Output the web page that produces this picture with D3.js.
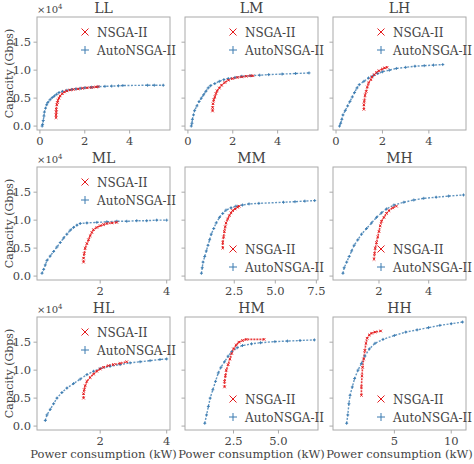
<!DOCTYPE html>
<html>
<head>
<meta charset="utf-8">
<script src="https://d3js.org/d3.v7.min.js"></script>
<style>
  body { margin: 0; background: #fff; }
  svg text { font-family: "DejaVu Serif", "Liberation Serif", serif; fill: #444; }
</style>
</head>
<body>
<svg id="chart" width="474" height="464" font-family="DejaVu Serif, serif"></svg>
<script>
// values in units of 1e4 Gbps, x in kW
var panelNames = ["LL", "LM", "LH", "ML", "MM", "MH", "HL", "HM", "HH"];
var xDomains = [[-0.13, 5.8], [-0.13, 5.8], [-0.13, 5.6], [0.1, 4.1], [-0.5, 7.6], [0.15, 5.5], [0.1, 4.1], [-0.2, 7.2], [-0.4, 11.3]];
var xTicks = [[0, 2, 4], [0, 2, 4], [0, 2, 4], [2, 4], [2.5, 5.0, 7.5], [2, 4], [2, 4], [2.5, 5.0], [5, 10]];
var yTicks = [0, 0.5, 1.0, 1.5];
var legendTop = [true, true, true, true, false, false, true, false, false];

var autoSeries = [
  [[0.1,0.0],[0.12,0.03],[0.15,0.1],[0.18,0.18],[0.2,0.25],[0.25,0.32],[0.3,0.38],[0.35,0.42],[0.45,0.47],[0.55,0.51],[0.65,0.54],[0.75,0.57],[0.85,0.6],[1.0,0.62],[1.2,0.64],[1.4,0.655],[1.6,0.665],[1.8,0.675],[2.0,0.685],[2.3,0.695],[2.6,0.705],[2.9,0.71],[3.2,0.715],[3.5,0.72],[3.7,0.725],[4.8,0.73],[5.1,0.73],[5.5,0.73]],
  [[0.15,0.0],[0.18,0.05],[0.2,0.12],[0.25,0.2],[0.3,0.28],[0.4,0.36],[0.5,0.44],[0.6,0.5],[0.7,0.56],[0.8,0.62],[0.9,0.68],[1.0,0.72],[1.2,0.76],[1.4,0.8],[1.6,0.83],[1.8,0.85],[2.1,0.87],[2.4,0.89],[2.8,0.9],[3.2,0.91],[3.6,0.92],[4.2,0.93],[4.8,0.94],[5.4,0.95]],
  [[0.15,0.0],[0.2,0.05],[0.25,0.12],[0.3,0.2],[0.4,0.28],[0.5,0.36],[0.6,0.44],[0.7,0.52],[0.8,0.6],[0.9,0.68],[1.0,0.74],[1.2,0.8],[1.4,0.86],[1.6,0.9],[1.8,0.94],[2.0,0.97],[2.3,1.0],[2.6,1.03],[3.0,1.05],[3.4,1.07],[3.8,1.08],[4.2,1.09],[4.6,1.1]],
  [[0.25,0.05],[0.3,0.12],[0.35,0.2],[0.4,0.28],[0.5,0.36],[0.6,0.44],[0.7,0.52],[0.8,0.6],[0.9,0.68],[1.0,0.75],[1.1,0.82],[1.2,0.87],[1.3,0.91],[1.4,0.94],[1.6,0.95],[1.9,0.96],[2.2,0.97],[2.5,0.98],[2.8,0.98],[3.1,0.99],[3.4,0.99],[3.7,1.0],[4.0,1.0]],
  [[0.5,0.05],[0.55,0.15],[0.6,0.25],[0.7,0.35],[0.8,0.45],[0.9,0.55],[1.0,0.65],[1.1,0.75],[1.25,0.85],[1.4,0.95],[1.6,1.05],[1.8,1.12],[2.0,1.18],[2.3,1.22],[2.6,1.25],[3.0,1.27],[3.4,1.29],[4.0,1.3],[5.5,1.32],[6.2,1.33],[6.8,1.34],[7.4,1.35]],
  [[0.55,0.05],[0.6,0.15],[0.7,0.25],[0.8,0.35],[0.9,0.45],[1.0,0.55],[1.15,0.65],[1.3,0.75],[1.5,0.85],[1.7,0.95],[1.9,1.05],[2.1,1.13],[2.3,1.2],[2.6,1.27],[3.0,1.32],[3.4,1.36],[3.8,1.39],[4.3,1.41],[4.8,1.43],[5.4,1.45]],
  [[0.35,0.1],[0.4,0.2],[0.5,0.3],[0.6,0.4],[0.7,0.5],[0.85,0.6],[1.0,0.68],[1.2,0.76],[1.4,0.84],[1.6,0.92],[1.8,0.98],[2.0,1.03],[2.3,1.07],[2.6,1.1],[2.9,1.13],[3.2,1.15],[3.5,1.17],[3.8,1.19],[4.0,1.2]],
  [[0.9,0.05],[1.0,0.2],[1.1,0.35],[1.2,0.5],[1.35,0.65],[1.5,0.8],[1.65,0.95],[1.8,1.05],[2.0,1.15],[2.2,1.25],[2.4,1.33],[2.7,1.4],[3.0,1.44],[3.5,1.47],[4.0,1.49],[4.8,1.51],[5.5,1.52],[6.2,1.53],[7.0,1.54]],
  [[0.8,0.05],[0.9,0.2],[1.0,0.4],[1.1,0.55],[1.3,0.7],[1.5,0.85],[1.8,1.0],[2.1,1.12],[2.4,1.25],[2.8,1.38],[3.3,1.48],[4.0,1.55],[5.0,1.62],[6.0,1.68],[7.0,1.72],[8.0,1.76],[9.0,1.8],[10.0,1.83],[11.0,1.86]]
];
var nsgaSeries = [
  [[0.72,0.15],[0.72,0.2],[0.73,0.25],[0.73,0.3],[0.75,0.38],[0.78,0.42],[0.8,0.46],[0.85,0.5],[0.9,0.54],[1.0,0.58],[1.1,0.61],[1.2,0.63],[1.35,0.645],[1.5,0.655],[1.7,0.665],[1.9,0.675],[2.1,0.685],[2.3,0.69],[2.5,0.7],[2.6,0.705]],
  [[1.1,0.27],[1.1,0.33],[1.12,0.4],[1.15,0.47],[1.2,0.52],[1.25,0.58],[1.3,0.63],[1.4,0.68],[1.5,0.73],[1.65,0.78],[1.8,0.82],[2.0,0.85],[2.2,0.87],[2.4,0.88],[2.6,0.89],[2.8,0.9],[2.9,0.9]],
  [[1.2,0.3],[1.2,0.38],[1.22,0.45],[1.25,0.55],[1.3,0.62],[1.35,0.7],[1.4,0.77],[1.5,0.83],[1.55,0.88],[1.65,0.92],[1.75,0.96],[1.85,0.99],[2.0,1.02],[2.1,1.04],[2.2,1.05]],
  [[1.5,0.25],[1.5,0.32],[1.52,0.4],[1.55,0.5],[1.6,0.58],[1.65,0.65],[1.7,0.72],[1.75,0.78],[1.8,0.83],[1.9,0.87],[2.0,0.9],[2.1,0.92],[2.2,0.94],[2.35,0.95],[2.5,0.96]],
  [[1.8,0.5],[1.8,0.6],[1.85,0.7],[1.9,0.8],[1.95,0.88],[2.0,0.95],[2.1,1.02],[2.2,1.08],[2.3,1.13],[2.4,1.17],[2.55,1.2],[2.7,1.23],[2.8,1.25]],
  [[1.8,0.3],[1.82,0.4],[1.85,0.5],[1.9,0.6],[1.95,0.7],[2.0,0.8],[2.05,0.9],[2.1,0.98],[2.2,1.05],[2.3,1.12],[2.4,1.17],[2.55,1.22],[2.7,1.25]],
  [[1.5,0.5],[1.5,0.58],[1.52,0.65],[1.55,0.72],[1.6,0.8],[1.7,0.87],[1.8,0.93],[1.9,0.98],[2.0,1.02],[2.1,1.05],[2.25,1.08],[2.4,1.1],[2.6,1.12],[2.8,1.15]],
  [[2.0,0.7],[2.0,0.8],[2.05,0.9],[2.1,1.0],[2.2,1.1],[2.3,1.2],[2.4,1.3],[2.5,1.38],[2.65,1.45],[2.8,1.5],[3.0,1.53],[3.2,1.55],[4.2,1.55]],
  [[2.1,0.55],[2.1,0.7],[2.15,0.9],[2.2,1.05],[2.3,1.2],[2.4,1.35],[2.5,1.48],[2.6,1.57],[2.8,1.63],[3.0,1.66],[3.3,1.68],[3.8,1.7]]
];

var blue = "#3a7bb0", red = "#e41a1c", grey = "#aaa";
var svg = d3.select("#chart");
var colX = [37, 185, 333], rowY = [17, 167, 317], pw = 133, ph = 113;
var y = d3.scaleLinear().domain([-0.07, 1.95]).range([ph, 0]);

panelNames.forEach(function(name, i) {
  var r = Math.floor(i / 3), c = i % 3;
  var g = svg.append("g").attr("transform", "translate(" + colX[c] + "," + rowY[r] + ")");
  var x = d3.scaleLinear().domain(xDomains[i]).range([0, pw]);

  var line = d3.line().x(function(d) { return x(d[0]); }).y(function(d) { return y(d[1]); });
  g.append("path").datum(autoSeries[i]).attr("d", line).attr("fill", "none")
    .attr("stroke", blue).attr("stroke-width", 1.4).attr("stroke-dasharray", "2,1.5").attr("opacity", 0.8);
  g.append("path").datum(nsgaSeries[i]).attr("d", line).attr("fill", "none")
    .attr("stroke", red).attr("stroke-width", 1.6).attr("stroke-dasharray", "2,1").attr("opacity", 0.85);

  g.selectAll(".p").data(autoSeries[i]).enter().append("path")
    .attr("transform", function(d) { return "translate(" + x(d[0]) + "," + y(d[1]) + ")"; })
    .attr("d", "M-1.5,0H1.5M0,-1.5V1.5").attr("stroke", blue).attr("stroke-width", 0.9);
  g.selectAll(".x").data(nsgaSeries[i]).enter().append("path")
    .attr("transform", function(d) { return "translate(" + x(d[0]) + "," + y(d[1]) + ")"; })
    .attr("d", "M-1.3,-1.3L1.3,1.3M-1.3,1.3L1.3,-1.3").attr("stroke", red).attr("stroke-width", 0.9);

  g.append("rect").attr("width", pw).attr("height", ph).attr("fill", "none").attr("stroke", grey).attr("stroke-width", 1);

  xTicks[i].forEach(function(t) {
    g.append("line").attr("x1", x(t)).attr("x2", x(t)).attr("y1", ph).attr("y2", ph + 3.5).attr("stroke", grey);
    g.append("text").attr("x", x(t)).attr("y", ph + 15).attr("text-anchor", "middle").attr("font-size", 11.5).text(t === 2.5 || t === 5.0 && xTicks[i][0] === 2.5 || t === 7.5 ? t.toFixed(1) : t);
  });
  yTicks.forEach(function(t) {
    g.append("line").attr("x1", -3.5).attr("x2", 0).attr("y1", y(t)).attr("y2", y(t)).attr("stroke", grey);
    if (c === 0) g.append("text").attr("x", -6).attr("y", y(t) + 4).attr("text-anchor", "end").attr("font-size", 11.5).text(t.toFixed(1));
  });
  g.append("text").attr("x", pw / 2).attr("y", -4).attr("text-anchor", "middle").attr("font-size", 14).text(name);
  if (c === 0) {
    var e = g.append("text").attr("x", 0).attr("y", -4).attr("font-size", 10);
    e.append("tspan").text("×10");
    e.append("tspan").attr("dy", -4).attr("font-size", 7).text("4");
    svg.append("text").attr("transform", "translate(13," + (rowY[r] + ph / 2) + ") rotate(-90)")
      .attr("text-anchor", "middle").attr("font-size", 11).text("Capacity (Gbps)");
  }
  if (r === 2) g.append("text").attr("x", pw / 2).attr("y", ph + 28).attr("text-anchor", "middle").attr("font-size", 11.5).text("Power consumption (kW)");

  var ly = legendTop[i] ? 15 : 82;
  var lg = g.append("g").attr("transform", "translate(48," + ly + ")");
  lg.append("path").attr("d", "M-3.5,-3.5L3.5,3.5M-3.5,3.5L3.5,-3.5").attr("stroke", red).attr("stroke-width", 1);
  lg.append("text").attr("x", 12).attr("y", 4.5).attr("font-size", 12).text("NSGA-II");
  lg.append("path").attr("d", "M-4,18H4M0,14V22").attr("stroke", blue).attr("stroke-width", 1);
  lg.append("text").attr("x", 12).attr("y", 22.5).attr("font-size", 12).text("AutoNSGA-II");
});
</script>
</body>
</html>
